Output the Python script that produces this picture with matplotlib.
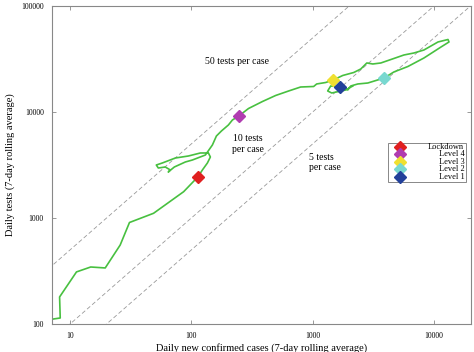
import matplotlib
matplotlib.use("Agg")
import matplotlib.pyplot as plt
import numpy as np
from matplotlib.patches import Rectangle
from matplotlib.ticker import FixedLocator, FuncFormatter, NullLocator

plt.rcParams['font.family'] = ['Liberation Serif', 'DejaVu Serif']

# daily new confirmed cases vs daily tests (7-day rolling averages)
cases = [7.1, 8.3, 8.2, 11.3, 14.8, 19.5, 25.9, 30.9, 48.8, 86.4,
         113.6, 123.3, 135.6, 143.5, 138.2, 118.7, 94.5, 73.8, 57.6, 51.4,
         53.4, 61.0, 67.1, 64.5, 72.4, 89.2, 102, 130.5, 149.1, 160.9,
         177, 202, 218, 246, 296, 386, 495, 634, 796, 1019,
         1079, 1281, 1477, 1770, 2182, 2493, 2795, 3133, 3648, 4670,
         5650, 6833, 8268, 10790, 13050, 13300, 11430, 8268, 6098, 4670,
         3884, 2848, 2354, 2061, 1947, 1770, 1681, 1408, 1330, 1436,
         1874, 2141]
tests = [111, 114, 180, 310, 345, 338, 556, 907, 1108, 1771,
         2453, 2837, 3303, 3763, 4105, 4105, 3845, 3681, 3303, 3162,
         2963, 3028, 2837, 2716, 3028, 3376, 3525, 3929, 4884, 5937,
         6620, 7542, 8405, 9168, 10790, 12565, 14310, 15785, 17210, 17400,
         18380, 18980, 20040, 22100, 23590, 25450, 29000, 28370, 29000, 31970,
         34490, 36020, 38450, 45750, 48300, 45750, 41040, 32320, 26870, 23850,
         20930, 18770, 18380, 17590, 16130, 17590, 17210, 17590, 15785, 15110,
         16130, 17590]

event_names = ["Lockdown", "Level 4", "Level 3", "Level 2", "Level 1"]
event_cases = [113.6, 246, 1477, 3884, 1681]
event_tests = [2453, 9168, 20040, 20930, 17210]
event_colors = ["#e02020", "#b03cb0", "#f0e030", "#78d8d0", "#22409a"]

ratios = [50, 10, 5]

fig = plt.figure(figsize=(4.74, 3.52), dpi=100)
ax = fig.add_axes([0.1097, 0.0795, 0.884, 0.9035])
ax.set_xscale("log")
ax.set_yscale("log")
ax.set_xlim(7.1, 20200)
ax.set_ylim(100, 100000)

xs = np.array([5, 40000])
for r in ratios:
    ax.plot(xs, r * xs, color="#999999", linestyle=(0, (5, 3)), linewidth=0.6, zorder=1)

ax.plot(cases, tests, color="#48c040", linewidth=1.2, zorder=2)

for cx, ty, c in zip(event_cases, event_tests, event_colors):
    ax.plot(cx, ty, marker="D", markersize=6.5, color=c, linestyle="none", zorder=3)

ax.text(240, 29650, "50 tests per case", fontsize=7, ha="center", va="center")
ax.text(290, 5000, "10 tests\nper case", fontsize=7, ha="center", va="center")
ax.text(927, 3340, "5 tests\nper case", fontsize=7, ha="left", va="center", multialignment="left")

for axis, vals in ((ax.xaxis, [10, 100, 1000, 10000]), (ax.yaxis, [100, 1000, 10000, 100000])):
    axis.set_major_locator(FixedLocator(vals))
    axis.set_minor_locator(NullLocator())
    axis.set_major_formatter(FuncFormatter(lambda v, p: "%d" % v))
ax.tick_params(direction="in", top=True, right=True, length=3, width=0.6,
               color="#888888", labelsize=5.5, pad=6)
for s in ax.spines.values():
    s.set_color("#888888")
    s.set_linewidth(0.8)

ax.set_xlabel("Daily new confirmed cases (7-day rolling average)", fontsize=7.5, labelpad=2)
ax.set_ylabel("Daily tests (7-day rolling average)", fontsize=7.5, labelpad=4)

# legend box drawn by hand so the labels can be right aligned
ax.add_patch(Rectangle((0.802, 0.447), 0.186, 0.122, transform=ax.transAxes,
                       facecolor="white", edgecolor="#888888", linewidth=0.7, zorder=4))
for i, (name, c) in enumerate(zip(event_names, event_colors)):
    yy = 0.557 - i * 0.0237
    ax.plot(0.831, yy, marker="D", markersize=6, color=c, transform=ax.transAxes,
            clip_on=False, zorder=5)
    ax.text(0.984, yy, name, fontsize=6, ha="right", va="center",
            transform=ax.transAxes, zorder=6)

fig.savefig("out.png", dpi=100)
